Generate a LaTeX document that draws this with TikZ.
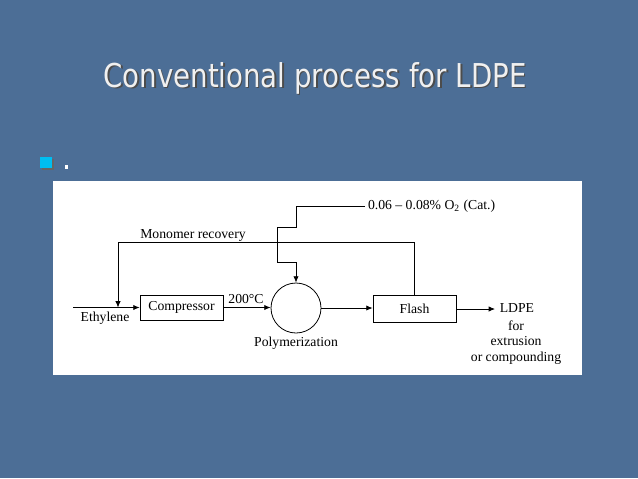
\documentclass[tikz,border=0pt]{standalone}
\usepackage{fontspec}
\setmainfont{Liberation Serif}
\newfontfamily\titlefont{DejaVu Sans}
\usepackage{tikz}
\usetikzlibrary{arrows.meta}
\definecolor{slidebg}{RGB}{76,110,150}
\definecolor{bulletc}{RGB}{0,190,240}

\begin{document}
\begin{tikzpicture}[x=0.02cm,y=-0.02cm,>={Latex[length=3.6pt,width=3pt]},
  font=\fontsize{7.8}{9}\selectfont,line width=0.45pt,
  unit/.style={draw,minimum width=1.66cm,inner sep=0pt},
  reactor/.style={draw,circle,minimum size=1cm,inner sep=0pt},
  lbl/.style={inner sep=0pt},
  headline/.style={inner sep=0pt,anchor=base,xscale=0.84,
    font=\titlefont\fontsize{18.7}{22}\selectfont}]
% slide
\fill[slidebg] (0,0) rectangle (638,478);
\useasboundingbox (0,0) rectangle (638,478);
\node[headline,text=black!70] at (316.5,88.5) {Conventional process for LDPE};
\node[headline,text=white!94!black] (title) at (315,87) {Conventional process for LDPE};
\fill[black!60] (42,159) rectangle (54,170);
\fill[bulletc] (40,157) rectangle (52,168);
\fill[white] (65,165) rectangle (68,169);
\fill[white] (53,181) rectangle (582,375);
% flow sheet
\node[unit,minimum height=0.5cm] (comp) at (181.5,307.5) {Compressor};
\node[reactor] (react) at (296,308) {};
\node[unit,minimum height=0.54cm] (flash) at (414.5,309) {Flash};
\node[lbl,anchor=west,inner xsep=2.5pt] (ldpe) at (495,308.5) {LDPE};
\node[lbl,anchor=north,align=center] (use) at (516,320) {for\\extrusion\\or compounding};
\node[lbl,anchor=west,inner xsep=1.5pt] (cat) at (365,206) {0.06 -- 0.08\% O\textsubscript{2} (Cat.)};
\coordinate (feed) at (73,307.5);
\coordinate (mix) at (118,307.5);
\draw[->] (feed) -- (comp.west);
\draw[->] (comp.east) -- (comp.east -| react.west);
\draw[->] (react.east) -- (react.east -| flash.west);
\draw[->] (flash.east) -- (flash.east -| ldpe.west);
\draw[->] (flash.north) -- ++(0,-53) -| (mix);
\draw[->] (cat.west) -- (react.north |- cat.west) -- ++(0,21) -- ++(-19,0)
  -- ++(0,35) -- ++(19,0) -- (react.north);
% labels
\node[lbl] at (105,318) {Ethylene};
\node[lbl] at (246,299) {200°C};
\node[lbl] at (193,235) {Monomer recovery};
\node[lbl] at (296,343) {Polymerization};
\end{tikzpicture}
\end{document}
